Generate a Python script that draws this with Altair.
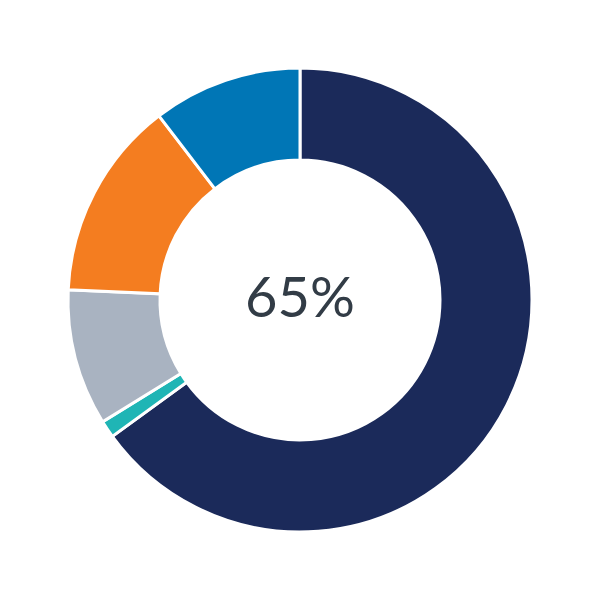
import altair as alt
import pandas as pd

categories = ["A", "B", "C", "D", "E"]
values = [65.0, 1.2, 9.5, 13.9, 10.4]
colors = ["#1b2a5a", "#1fb5b5", "#a9b3c1", "#f47d20", "#0076b6"]
center_label = "65%"

df = pd.DataFrame({"cat": categories, "value": values, "order": list(range(len(values)))})

arc = alt.Chart(df).mark_arc(innerRadius=140, outerRadius=232, stroke="white", strokeWidth=3).encode(
    theta=alt.Theta("value:Q", stack=True),
    color=alt.Color("cat:N", scale=alt.Scale(domain=categories, range=colors), legend=None),
    order=alt.Order("order:Q"),
)

text = alt.Chart(pd.DataFrame({"t": [center_label]})).mark_text(
    font="Lato", fontWeight="normal", fontSize=56, color="#323c46", baseline="middle", align="center"
).encode(text="t:N", x=alt.value(292), y=alt.value(292))

chart = alt.layer(arc, text).properties(width=584, height=584, padding=0).configure_view(stroke=None)
chart.save("out.html", embed_options={"renderer": "svg", "actions": False})
